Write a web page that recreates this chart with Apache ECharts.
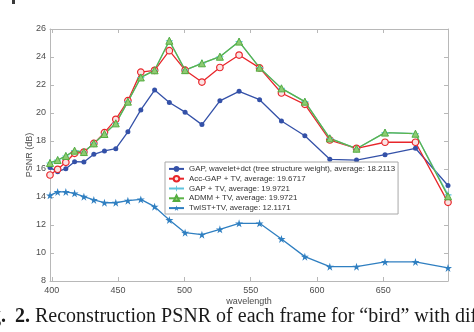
<!DOCTYPE html>
<html>
<head>
<meta charset="utf-8">
<script src="https://cdn.jsdelivr.net/npm/echarts@6/dist/echarts.min.js"></script>
<style>html,body{margin:0;padding:0;background:#fff}#c{width:474px;height:332px}</style>
</head>
<body>
<div id="c"></div>
<script>
const wavelengths = [398.62, 404.40, 410.57, 417.16, 424.19, 431.69, 439.70, 448.25, 457.38, 467.13, 477.54, 488.66, 500.54, 513.23, 526.78, 541.26, 556.72, 573.23, 590.87, 609.72, 629.85, 651.35, 674.32, 698.87];
const gapWaveletDct = [16.1, 15.81, 16.02, 16.52, 16.5, 17.05, 17.29, 17.45, 18.66, 20.22, 21.64, 20.75, 20.06, 19.17, 20.87, 21.55, 20.95, 19.43, 18.38, 16.69, 16.64, 17.02, 17.48, 14.82];
const accGapTv = [15.57, 15.98, 16.48, 17.12, 17.21, 17.83, 18.6, 19.55, 20.88, 22.92, 23.05, 24.45, 23.06, 22.21, 23.25, 24.14, 23.22, 21.43, 20.62, 18.07, 17.48, 17.91, 17.91, 13.62];
const gapTv = [16.43, 16.64, 16.93, 17.31, 17.21, 17.83, 18.5, 19.26, 20.81, 22.54, 23.05, 25.16, 23.06, 23.55, 24.02, 25.1, 23.24, 21.76, 20.81, 18.19, 17.45, 18.6, 18.52, 14.15];
const admmTv = [16.43, 16.64, 16.93, 17.31, 17.21, 17.83, 18.5, 19.26, 20.81, 22.54, 23.05, 25.16, 23.06, 23.55, 24.02, 25.1, 23.24, 21.76, 20.81, 18.19, 17.45, 18.6, 18.52, 14.05];
const twistTv = [14.12, 14.36, 14.36, 14.26, 14.02, 13.79, 13.59, 13.59, 13.74, 13.83, 13.31, 12.36, 11.45, 11.31, 11.69, 12.12, 12.12, 11.0, 9.74, 9.02, 9.02, 9.36, 9.36, 8.93];
const seriesNames = [
  'GAP, wavelet+dct (tree structure weight), average: 18.2113',
  'Acc-GAP + TV, average: 19.6717',
  'GAP + TV, average: 19.9721',
  'ADMM + TV, average: 19.9721',
  'TwIST+TV, average: 12.1171'
];
const xTicks = [400, 450, 500, 550, 600, 650];
const xLabel = 'wavelength';
const yLabel = 'PSNR (dB)';
const captionFig = 'Fig.';
const captionNum = '2.';
const captionText = 'Reconstruction PSNR of each frame for \u201cbird\u201d with different algorithms';

function pairs(ys) { return wavelengths.map((w, i) => [w, ys[i]]); }

const STAR = 'path://M12,0 L14.8,8.6 L23.8,8.6 L16.5,13.9 L19.3,22.5 L12,17.2 L4.7,22.5 L7.5,13.9 L0.2,8.6 L9.2,8.6 Z';
const PLUS = 'path://M4.2,0 L5.8,0 L5.8,4.2 L10,4.2 L10,5.8 L5.8,5.8 L5.8,10 L4.2,10 L4.2,5.8 L0,5.8 L0,4.2 L4.2,4.2 Z';

const axisColor = '#b8b8b8';
const labelColor = '#4d4d4d';
const font = 'Liberation Sans, Arial, sans-serif';

const chart = echarts.init(document.getElementById('c'), null, {renderer: 'canvas'});
const xCommon = {
  type: 'value', min: 398.62, max: 698.87,
  axisLine: {show: true, lineStyle: {color: axisColor, width: 1}},
  axisTick: {show: true, inside: true, length: 4, customValues: xTicks, lineStyle: {color: axisColor}},
  splitLine: {show: false}
};
const yCommon = {
  type: 'value', min: 8, max: 26, interval: 2,
  axisLine: {show: true, lineStyle: {color: axisColor, width: 1}},
  axisTick: {show: true, inside: true, length: 4, lineStyle: {color: axisColor}},
  splitLine: {show: false}
};

chart.setOption({
  animation: false,
  backgroundColor: '#fff',
  grid: {left: 50, right: 26, top: 29, bottom: 51, containLabel: false},
  xAxis: [
    Object.assign({}, xCommon, {
      position: 'bottom',
      name: xLabel, nameLocation: 'middle', nameGap: 16, nameMoveOverlap: false,
      nameTextStyle: {color: labelColor, fontSize: 9, fontFamily: font},
      axisLabel: {show: true, customValues: xTicks, margin: 5, color: labelColor, fontSize: 9, fontFamily: font}
    }),
    Object.assign({}, xCommon, {position: 'top', axisLabel: {show: false}})
  ],
  yAxis: [
    Object.assign({}, yCommon, {
      position: 'left',
      name: yLabel, nameLocation: 'middle', nameGap: 16, nameRotate: 90, nameMoveOverlap: false,
      nameTextStyle: {color: labelColor, fontSize: 9, fontFamily: font},
      axisLabel: {show: true, margin: 4, color: labelColor, fontSize: 9, fontFamily: font}
    }),
    Object.assign({}, yCommon, {position: 'right', axisLabel: {show: false}})
  ],
  legend: {
    orient: 'vertical', left: 165, top: 162,
    backgroundColor: '#fff', borderColor: '#a8a8a8', borderWidth: 1,
    padding: [2, 3, 1, 3], itemGap: 0, itemWidth: 15, itemHeight: 7,
    textStyle: {color: '#333', fontSize: 7.9, fontFamily: font, lineHeight: 9.8},
    data: seriesNames
  },
  series: [
    {name: seriesNames[0], type: 'line', data: pairs(gapWaveletDct), symbol: 'circle', symbolSize: 5,
     lineStyle: {color: '#3451a8', width: 1.3}, itemStyle: {color: '#3451a8'}},
    {name: seriesNames[1], type: 'line', data: pairs(accGapTv), symbol: 'circle', symbolSize: 6.5,
     lineStyle: {color: '#e8262b', width: 1.3}, itemStyle: {color: '#fbe3e3', borderColor: '#e8262b', borderWidth: 1.2}},
    {name: seriesNames[2], type: 'line', data: pairs(gapTv), symbol: PLUS, symbolSize: 7,
     lineStyle: {color: '#5fc3dd', width: 1.3}, itemStyle: {color: '#5fc3dd'}},
    {name: seriesNames[3], type: 'line', data: pairs(admmTv), symbol: 'triangle', symbolSize: 7,
     lineStyle: {color: '#5cb447', width: 1.3}, itemStyle: {color: '#8dcb73', borderColor: '#55ad40', borderWidth: 1}},
    {name: seriesNames[4], type: 'line', data: pairs(twistTv), symbol: STAR, symbolSize: 8,
     lineStyle: {color: '#2f7fc1', width: 1.3}, itemStyle: {color: '#2f7fc1'}}
  ],
  graphic: [
    {type: 'rect', shape: {x: 12, y: 0, width: 3, height: 4}, style: {fill: '#3a3a3a'}},
    {type: 'text', x: 6, y: 307, style: {text: captionFig, font: 'bold 20px "Liberation Serif", serif', fill: '#1a1a1a', align: 'right', verticalAlign: 'top'}},
    {type: 'text', x: 15, y: 307, style: {text: captionNum, font: 'bold 20px "Liberation Serif", serif', fill: '#1a1a1a', align: 'left', verticalAlign: 'top'}},
    {type: 'text', x: 35, y: 307, style: {text: captionText, font: '20px "Liberation Serif", serif', fill: '#1a1a1a', align: 'left', verticalAlign: 'top'}}
  ]
});
</script>
</body>
</html>
